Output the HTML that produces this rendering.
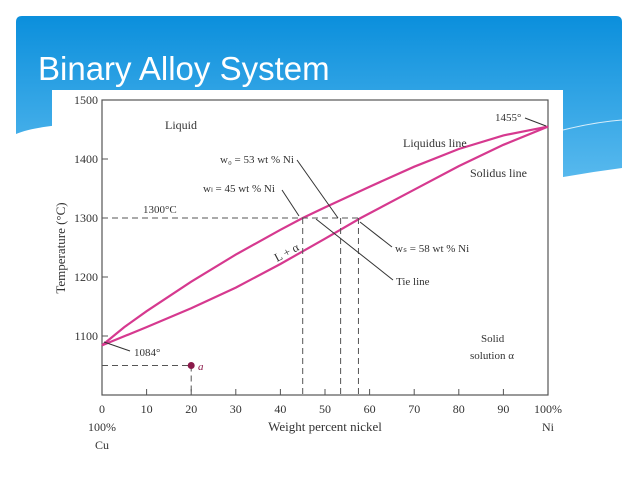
<!DOCTYPE html>
<html><head><meta charset="utf-8"><style>
body{margin:0;width:638px;height:479px;background:#fff;overflow:hidden;font-family:"Liberation Serif",serif}
</style></head><body>
<svg width="638" height="479" viewBox="0 0 638 479">
<defs><linearGradient id="g" x1="0" y1="0" x2="0" y2="1"><stop offset="0" stop-color="#0b8fdc"/><stop offset="1" stop-color="#5dbcef"/></linearGradient></defs>
<path d="M22,16 H616 Q622,16 622,22 V168 Q560,176 500,190 L500,170 Q300,100 60,125 Q30,128 16,134 V22 Q16,16 22,16Z" fill="url(#g)"/>
<path d="M563,130 Q595,122 622,120" stroke="#fff" stroke-width="1" fill="none" opacity="0.8"/>
<text x="38" y="80" font-family="Liberation Sans, sans-serif" font-size="33" fill="#fff">Binary Alloy System</text>
<rect x="52" y="90" width="511" height="380" fill="#fff"/>
<g id="chart" font-size="12" fill="#333"></g>
</svg>
<script>
const xTicks=[0,10,20,30,40,50,60,70,80,90,100];
const yTicks=[1100,1200,1300,1400,1500];
const liqX=[0,5,10,20,30,40,45,50,60,70,80,90,100];
const liqY=[1084,1115,1142,1192,1238,1280,1300,1318,1353,1387,1417,1440,1455];
const solX=[0,10,20,30,40,50,58,70,80,90,100];
const solY=[1084,1115,1147,1182,1222,1265,1300,1348,1388,1424,1455];
const X0=102,X1=548,Y0=395,Y1=100;
const sx=v=>X0+(X1-X0)*v/100, sy=t=>Y0-(Y0-Y1)*(t-1000)/500;
const g=document.getElementById('chart'),NS='http://www.w3.org/2000/svg';
function el(t,a,txt){const e=document.createElementNS(NS,t);for(const k in a)e.setAttribute(k,a[k]);if(txt!=null)e.textContent=txt;g.appendChild(e);return e;}
let e=el('rect',{x:X0,y:Y1,width:X1-X0,height:Y0-Y1,fill:'none',stroke:'#555','stroke-width':1.2});

xTicks.forEach(v=>{let t=el('line',{x1:sx(v),x2:sx(v),y1:Y0,y2:Y0-6,stroke:'#555'});
 let l=el('text',{x:sx(v),y:Y0+18,'text-anchor':'middle'},v===100?'100%':v);});
yTicks.forEach(v=>{let t=el('line',{x1:X0,x2:X0+6,y1:sy(v),y2:sy(v),stroke:'#555'});
 let l=el('text',{x:X0-4,y:sy(v)+4,'text-anchor':'end'},v);});
function path(xs,ys){return xs.map((x,i)=>(i?'L':'M')+sx(x).toFixed(1)+','+sy(ys[i]).toFixed(1)).join('');}
e=el('path',{d:path(liqX,liqY),fill:'none',stroke:'#d6398f','stroke-width':2.2});
e=el('path',{d:path(solX,solY),fill:'none',stroke:'#d6398f','stroke-width':2.2});
const dash={stroke:'#555','stroke-dasharray':'6,4',fill:'none'};
function dl(a,n){let d=el('line',Object.assign({},dash,a));}
dl({x1:X0,x2:sx(58),y1:sy(1300),y2:sy(1300)},'tie-line');
dl({x1:sx(45),x2:sx(45),y1:sy(1300),y2:Y0},'wl-drop');
dl({x1:sx(53.5),x2:sx(53.5),y1:sy(1300),y2:Y0},'w0-drop');
dl({x1:sx(57.5),x2:sx(57.5),y1:sy(1300),y2:Y0},'ws-drop');
dl({x1:X0,x2:sx(20),y1:sy(1050),y2:sy(1050)},'point-a-h');
dl({x1:sx(20),x2:sx(20),y1:sy(1050),y2:Y0},'point-a-v');
e=el('circle',{cx:sx(20),cy:sy(1050),r:3.5,fill:'#8b1a4a'});
function tx(x,y,s,n,extra){let t=el('text',Object.assign({x:x,y:y},extra||{}),s);return t;}
function ar(x1,y1,x2,y2,n){let l=el('line',{x1,y1,x2,y2,stroke:'#333','stroke-width':1});}
tx(165,129,'Liquid','liquid-label');
tx(403,147,'Liquidus line','liquidus-label');
tx(470,177,'Solidus line','solidus-label');
tx(495,121,'1455°','label-1455',{'font-size':11});ar(525,118,546,126,'arrow-1455');
tx(220,163,'w₀ = 53 wt % Ni','w0-label',{'font-size':11,'font-style':'normal'});ar(297,160,338,218,'arrow-w0');
tx(203,192,'wₗ = 45 wt % Ni','wl-label',{'font-size':11});ar(282,190,299,216,'arrow-wl');
tx(143,213,'1300°C','label-1300',{'font-size':11});
tx(395,252,'wₛ = 58 wt % Ni','ws-label',{'font-size':11});ar(392,247,360,222,'arrow-ws');
tx(396,285,'Tie line','tie-line-label',{'font-size':11});ar(393,280,316,219,'arrow-tie');
tx(277,262,'L + α','l-alpha-label',{transform:'rotate(-28 277 262)'});
tx(134,356,'1084°','label-1084',{'font-size':11});ar(130,351,104,342,'arrow-1084');
tx(198,370,'a','point-a-label',{'font-style':'italic','font-size':11,fill:'#8b1a4a'});
tx(481,342,'Solid','solid-label',{'font-size':11});
tx(470,359,'solution α','solution-label',{'font-size':11});
tx(X0,431,'100%','cu-percent',{'text-anchor':'middle'});
tx(X0,449,'Cu','cu-label',{'text-anchor':'middle'});
tx(548,431,'Ni','ni-label',{'text-anchor':'middle'});
tx(325,431,'Weight percent nickel','x-axis-title',{'text-anchor':'middle','font-size':13});
tx(65,248,'Temperature (°C)','y-axis-title',{'text-anchor':'middle','font-size':13,transform:'rotate(-90 65 248)'});
</script>
</body></html>
